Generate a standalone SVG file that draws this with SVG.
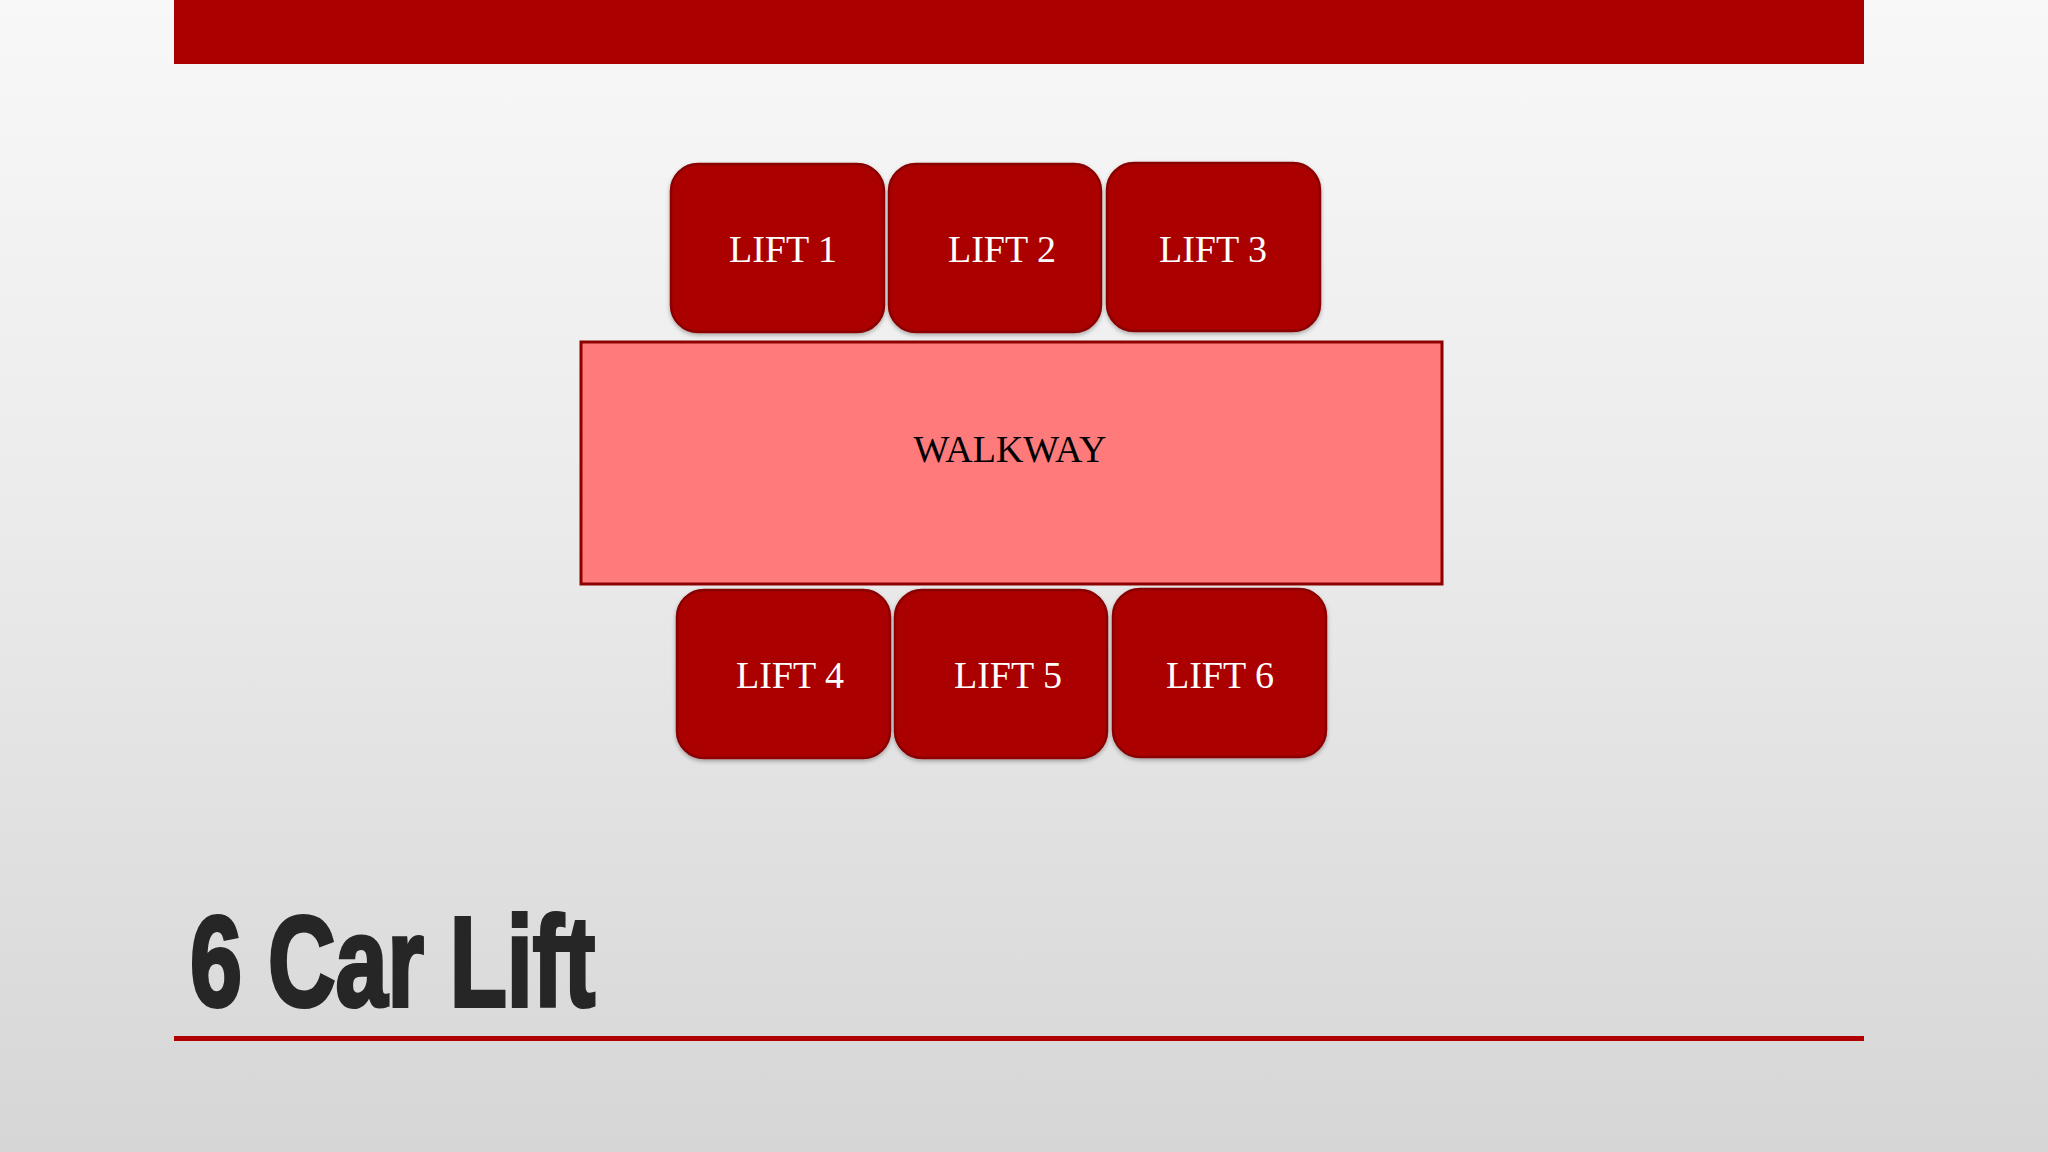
<svg xmlns="http://www.w3.org/2000/svg" width="2048" height="1152" viewBox="0 0 2048 1152">
<defs>
<linearGradient id="bg" x1="0" y1="0" x2="0" y2="1">
<stop offset="0" stop-color="#f8f8f8"/>
<stop offset="0.45" stop-color="#ebebeb"/>
<stop offset="1" stop-color="#d6d6d6"/>
</linearGradient>
<filter id="sh" x="-10%" y="-10%" width="120%" height="120%">
<feDropShadow dx="0" dy="2" stdDeviation="2" flood-color="#000" flood-opacity="0.3"/>
</filter>
</defs>
<style>
.lift{fill:#aa0000;stroke:#8a0000;stroke-width:2.5;filter:url(#sh)}
.lt{font-family:"Liberation Serif","Times New Roman",serif;font-size:38px;fill:#ffffff;text-anchor:middle}
.walk{fill:#ff7b7b;stroke:#8c0000;stroke-width:3}
.wt{font-family:"Liberation Serif","Times New Roman",serif;font-size:38px;fill:#000000;text-anchor:middle}
.title{font-family:"Liberation Sans Narrow","Liberation Sans",sans-serif;font-weight:bold;font-size:128px;fill:#262626;stroke:#262626;stroke-width:4}
</style>
<rect x="0" y="0" width="2048" height="1152" fill="url(#bg)"/>
<rect x="174" y="0" width="1690" height="64" fill="#aa0000"/>
<g id="walkway">
<rect class="walk" x="581" y="342" width="861" height="242"/>
<text class="wt" x="1010" y="462">WALKWAY</text>
</g>
<g id="lift1">
<rect class="lift" x="671" y="164" width="213" height="168" rx="27"/>
<text class="lt" x="783" y="262">LIFT 1</text>
</g>
<g id="lift2">
<rect class="lift" x="889" y="164" width="212" height="168" rx="27"/>
<text class="lt" x="1002" y="262">LIFT 2</text>
</g>
<g id="lift3">
<rect class="lift" x="1107" y="163" width="213" height="168" rx="27"/>
<text class="lt" x="1213" y="262">LIFT 3</text>
</g>
<g id="lift4">
<rect class="lift" x="677" y="590" width="213" height="168" rx="27"/>
<text class="lt" x="790" y="688">LIFT 4</text>
</g>
<g id="lift5">
<rect class="lift" x="895" y="590" width="212" height="168" rx="27"/>
<text class="lt" x="1008" y="688">LIFT 5</text>
</g>
<g id="lift6">
<rect class="lift" x="1113" y="589" width="213" height="168" rx="27"/>
<text class="lt" x="1220" y="688">LIFT 6</text>
</g>
<g id="connectors"></g>
<text class="title" x="190" y="1006" textLength="405" lengthAdjust="spacingAndGlyphs">6 Car Lift</text>
<rect x="174" y="1036" width="1690" height="5" fill="#b00000"/>
</svg>
